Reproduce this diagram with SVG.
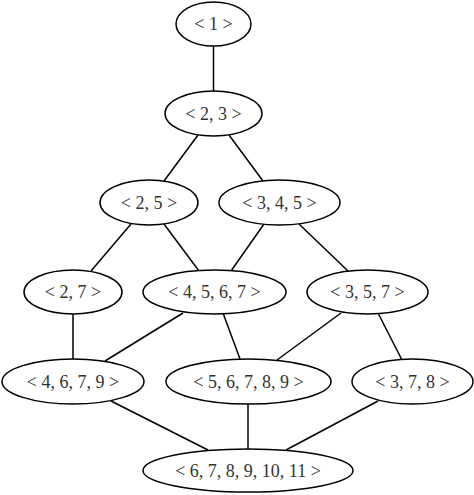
<svg xmlns="http://www.w3.org/2000/svg" width="474" height="495" viewBox="0 0 474 495">
<style>
ellipse{fill:#fff;stroke:#000;stroke-width:1.5}
line{stroke:#000;stroke-width:1.5}
text{font-family:"Liberation Serif","Times New Roman",serif;font-size:18px;fill:#333;text-anchor:middle}
</style>
<rect width="474" height="495" fill="#fff"/>
<g id="edges">
<line x1="213.5" y1="46" x2="213.5" y2="91"/>
<line x1="198" y1="135" x2="164" y2="181"/>
<line x1="229" y1="135" x2="263" y2="181"/>
<line x1="131" y1="224" x2="91" y2="271"/>
<line x1="164" y1="224" x2="199" y2="271"/>
<line x1="264" y1="224" x2="231" y2="271"/>
<line x1="299" y1="224" x2="348" y2="271"/>
<line x1="73" y1="314" x2="73" y2="359"/>
<line x1="183" y1="313" x2="105" y2="361"/>
<line x1="223" y1="313" x2="240" y2="359"/>
<line x1="341" y1="313" x2="277" y2="360"/>
<line x1="378" y1="313" x2="402" y2="360"/>
<line x1="111" y1="401" x2="208" y2="450"/>
<line x1="248" y1="404" x2="248" y2="449"/>
<line x1="378" y1="401" x2="286" y2="450"/>
</g>
<g id="n1"><ellipse cx="213.5" cy="24" rx="37.5" ry="22"/><text x="213.5" y="30">&lt; 1 &gt;</text></g>
<g id="n23"><ellipse cx="213.5" cy="113.5" rx="48.5" ry="22.5"/><text x="213.5" y="119.5">&lt; 2, 3 &gt;</text></g>
<g id="n25"><ellipse cx="149" cy="202.5" rx="49" ry="22.5"/><text x="149" y="208.5">&lt; 2, 5 &gt;</text></g>
<g id="n345"><ellipse cx="279.5" cy="202.5" rx="60.5" ry="22.5"/><text x="279.5" y="208.5">&lt; 3, 4, 5 &gt;</text></g>
<g id="n27"><ellipse cx="73" cy="292" rx="49" ry="22"/><text x="73" y="298">&lt; 2, 7 &gt;</text></g>
<g id="n4567"><ellipse cx="214.5" cy="292" rx="71.5" ry="22"/><text x="214.5" y="298">&lt; 4, 5, 6, 7 &gt;</text></g>
<g id="n357"><ellipse cx="367.5" cy="292" rx="60.5" ry="22"/><text x="367.5" y="298">&lt; 3, 5, 7 &gt;</text></g>
<g id="n4679"><ellipse cx="73" cy="381.5" rx="71" ry="22.5"/><text x="73" y="387.5">&lt; 4, 6, 7, 9 &gt;</text></g>
<g id="n56789"><ellipse cx="248.5" cy="381.5" rx="82.5" ry="22.5"/><text x="248.5" y="387.5">&lt; 5, 6, 7, 8, 9 &gt;</text></g>
<g id="n378"><ellipse cx="412.5" cy="381.5" rx="60.5" ry="22.5"/><text x="412.5" y="387.5">&lt; 3, 7, 8 &gt;</text></g>
<g id="n6to11"><ellipse cx="248" cy="470.5" rx="105" ry="21.5"/><text x="248" y="476.5">&lt; 6, 7, 8, 9, 10, 11 &gt;</text></g>
</svg>
